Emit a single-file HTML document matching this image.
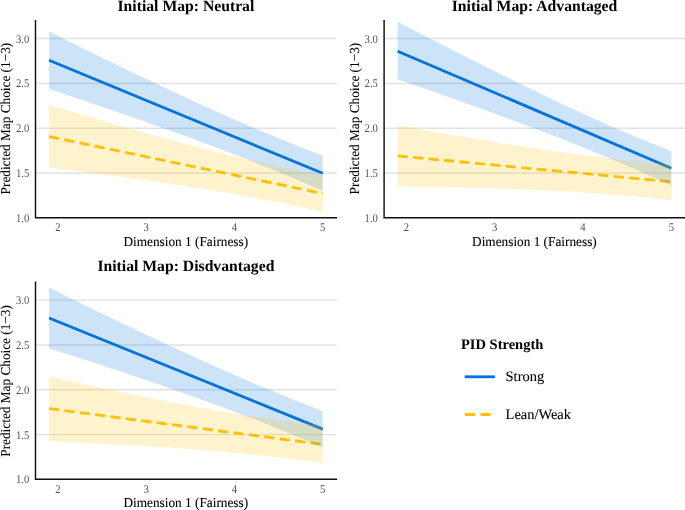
<!DOCTYPE html>
<html><head><meta charset="utf-8"><title>Predicted Map Choice</title>
<style>
html,body{margin:0;padding:0;background:#fff;}
body{width:685px;height:510px;overflow:hidden;}
svg{display:block;text-rendering:geometricPrecision;font-family:"Liberation Serif","Times New Roman",serif;}
.t{font-size:15.7px;font-weight:bold;fill:#000;text-anchor:middle;}
.a{font-size:13.7px;fill:#000;text-anchor:middle;stroke:#000;stroke-width:0.1px;}
.k{font-size:11.8px;fill:#555;}
.lt{font-size:14.5px;font-weight:bold;fill:#000;}
.ll{font-size:14.45px;fill:#000;stroke:#000;stroke-width:0.1px;}
</style></head><body>
<svg width="685" height="510" viewBox="0 0 685 510">
<rect width="685" height="510" fill="#fff"/>
<g>
<line x1="35.50" x2="336.40" y1="38.50" y2="38.50" stroke="#e2e2e2" stroke-width="1.4"/>
<line x1="35.50" x2="336.40" y1="83.45" y2="83.45" stroke="#e2e2e2" stroke-width="1.4"/>
<line x1="35.50" x2="336.40" y1="128.20" y2="128.20" stroke="#e2e2e2" stroke-width="1.4"/>
<line x1="35.50" x2="336.40" y1="173.00" y2="173.00" stroke="#e2e2e2" stroke-width="1.4"/>
<line x1="49.05" y1="136.50" x2="322.70" y2="193.50" stroke="#ffc107" stroke-width="2.85" stroke-dasharray="10.2 5.3"/>
<line x1="49.05" y1="60.30" x2="322.70" y2="173.30" stroke="#0572d9" stroke-width="2.85"/>
<path d="M49.05,31.50 L56.07,34.98 L63.08,38.46 L70.10,41.93 L77.12,45.40 L84.13,48.85 L91.15,52.30 L98.17,55.74 L105.18,59.16 L112.20,62.58 L119.22,65.98 L126.23,69.38 L133.25,72.76 L140.27,76.12 L147.28,79.47 L154.30,82.81 L161.32,86.13 L168.33,89.43 L175.35,92.71 L182.37,95.98 L189.38,99.22 L196.40,102.44 L203.42,105.63 L210.43,108.81 L217.45,111.95 L224.47,115.07 L231.48,118.17 L238.50,121.23 L245.52,124.26 L252.53,127.27 L259.55,130.24 L266.57,133.18 L273.58,136.09 L280.60,138.97 L287.62,141.82 L294.63,144.63 L301.65,147.42 L308.67,150.18 L315.68,152.90 L322.70,155.60 L322.70,190.80 L315.68,187.75 L308.67,184.73 L301.65,181.73 L294.63,178.76 L287.62,175.83 L280.60,172.92 L273.58,170.04 L266.57,167.19 L259.55,164.36 L252.53,161.57 L245.52,158.80 L238.50,156.06 L231.48,153.35 L224.47,150.66 L217.45,148.00 L210.43,145.36 L203.42,142.75 L196.40,140.15 L189.38,137.58 L182.37,135.03 L175.35,132.49 L168.33,129.97 L161.32,127.47 L154.30,124.99 L147.28,122.52 L140.27,120.06 L133.25,117.62 L126.23,115.19 L119.22,112.77 L112.20,110.37 L105.18,107.97 L98.17,105.58 L91.15,103.20 L84.13,100.84 L77.12,98.47 L70.10,96.12 L63.08,93.77 L56.07,91.43 L49.05,89.10Z" fill="#0572d9" fill-opacity="0.2"/>
<path d="M49.05,104.90 L56.07,107.00 L63.08,109.09 L70.10,111.18 L77.12,113.26 L84.13,115.33 L91.15,117.39 L98.17,119.45 L105.18,121.49 L112.20,123.53 L119.22,125.55 L126.23,127.57 L133.25,129.57 L140.27,131.55 L147.28,133.53 L154.30,135.49 L161.32,137.43 L168.33,139.36 L175.35,141.27 L182.37,143.16 L189.38,145.03 L196.40,146.88 L203.42,148.71 L210.43,150.51 L217.45,152.29 L224.47,154.04 L231.48,155.77 L238.50,157.46 L245.52,159.13 L252.53,160.76 L259.55,162.37 L266.57,163.94 L273.58,165.47 L280.60,166.98 L287.62,168.45 L294.63,169.89 L301.65,171.29 L308.67,172.66 L315.68,174.00 L322.70,175.30 L322.70,211.80 L315.68,210.22 L308.67,208.67 L301.65,207.14 L294.63,205.65 L287.62,204.19 L280.60,202.76 L273.58,201.36 L266.57,199.98 L259.55,198.64 L252.53,197.32 L245.52,196.04 L238.50,194.78 L231.48,193.54 L224.47,192.34 L217.45,191.15 L210.43,189.99 L203.42,188.85 L196.40,187.74 L189.38,186.64 L182.37,185.56 L175.35,184.50 L168.33,183.46 L161.32,182.44 L154.30,181.43 L147.28,180.43 L140.27,179.45 L133.25,178.48 L126.23,177.52 L119.22,176.57 L112.20,175.64 L105.18,174.71 L98.17,173.79 L91.15,172.89 L84.13,171.99 L77.12,171.10 L70.10,170.21 L63.08,169.34 L56.07,168.46 L49.05,167.60Z" fill="#ffc107" fill-opacity="0.2"/>
<path d="M35.50,20.60 V217.70 H336.40" fill="none" stroke="#111" stroke-width="1.45" stroke-linecap="square"/>
<text class="k" text-anchor="end" transform="translate(29.30,42.75) scale(0.905,1)">3.0</text>
<text class="k" text-anchor="end" transform="translate(29.30,86.75) scale(0.905,1)">2.5</text>
<text class="k" text-anchor="end" transform="translate(29.30,131.75) scale(0.905,1)">2.0</text>
<text class="k" text-anchor="end" transform="translate(29.30,176.75) scale(0.905,1)">1.5</text>
<text class="k" text-anchor="end" transform="translate(29.30,221.75) scale(0.905,1)">1.0</text>
<text class="k" text-anchor="middle" transform="translate(57.85,230.90) scale(0.905,1)">2</text>
<text class="k" text-anchor="middle" transform="translate(146.10,230.90) scale(0.905,1)">3</text>
<text class="k" text-anchor="middle" transform="translate(234.40,230.90) scale(0.905,1)">4</text>
<text class="k" text-anchor="middle" transform="translate(322.70,230.90) scale(0.905,1)">5</text>
<text class="a" transform="translate(185.80,245.50) scale(0.97,1)">Dimension 1 (Fairness)</text>
<text class="a" transform="translate(9.80,118.60) rotate(-90) scale(0.97,1)">Predicted Map Choice (1−3)</text>
<text class="t" x="185.90" y="10.55">Initial Map: Neutral</text>
</g>
<g>
<line x1="384.10" x2="685.00" y1="38.50" y2="38.50" stroke="#e2e2e2" stroke-width="1.4"/>
<line x1="384.10" x2="685.00" y1="83.45" y2="83.45" stroke="#e2e2e2" stroke-width="1.4"/>
<line x1="384.10" x2="685.00" y1="128.20" y2="128.20" stroke="#e2e2e2" stroke-width="1.4"/>
<line x1="384.10" x2="685.00" y1="173.00" y2="173.00" stroke="#e2e2e2" stroke-width="1.4"/>
<line x1="397.65" y1="155.90" x2="671.30" y2="181.80" stroke="#ffc107" stroke-width="2.85" stroke-dasharray="10.2 5.3"/>
<line x1="397.65" y1="51.20" x2="671.30" y2="168.20" stroke="#0572d9" stroke-width="2.85"/>
<path d="M397.65,21.80 L404.67,25.43 L411.68,29.05 L418.70,32.67 L425.72,36.28 L432.73,39.89 L439.75,43.48 L446.77,47.06 L453.78,50.64 L460.80,54.21 L467.82,57.76 L474.83,61.30 L481.85,64.83 L488.87,68.35 L495.88,71.85 L502.90,75.34 L509.92,78.81 L516.93,82.26 L523.95,85.69 L530.97,89.10 L537.98,92.49 L545.00,95.86 L552.02,99.20 L559.03,102.52 L566.05,105.81 L573.07,109.07 L580.08,112.30 L587.10,115.50 L594.12,118.66 L601.13,121.79 L608.15,124.89 L615.17,127.96 L622.18,130.98 L629.20,133.98 L636.22,136.93 L643.23,139.85 L650.25,142.74 L657.27,145.59 L664.28,148.41 L671.30,151.20 L671.30,185.50 L664.28,182.30 L657.27,179.12 L650.25,175.97 L643.23,172.86 L636.22,169.77 L629.20,166.71 L622.18,163.69 L615.17,160.70 L608.15,157.74 L601.13,154.81 L594.12,151.91 L587.10,149.04 L580.08,146.20 L573.07,143.39 L566.05,140.61 L559.03,137.85 L552.02,135.12 L545.00,132.41 L537.98,129.73 L530.97,127.07 L523.95,124.43 L516.93,121.81 L509.92,119.21 L502.90,116.63 L495.88,114.07 L488.87,111.51 L481.85,108.98 L474.83,106.46 L467.82,103.95 L460.80,101.45 L453.78,98.96 L446.77,96.49 L439.75,94.02 L432.73,91.56 L425.72,89.12 L418.70,86.68 L411.68,84.24 L404.67,81.82 L397.65,79.40Z" fill="#0572d9" fill-opacity="0.2"/>
<path d="M397.65,125.30 L404.67,126.56 L411.68,127.82 L418.70,129.07 L425.72,130.31 L432.73,131.54 L439.75,132.77 L446.77,133.99 L453.78,135.20 L460.80,136.41 L467.82,137.60 L474.83,138.78 L481.85,139.95 L488.87,141.11 L495.88,142.26 L502.90,143.39 L509.92,144.51 L516.93,145.61 L523.95,146.70 L530.97,147.77 L537.98,148.82 L545.00,149.86 L552.02,150.87 L559.03,151.86 L566.05,152.83 L573.07,153.78 L580.08,154.70 L587.10,155.60 L594.12,156.47 L601.13,157.31 L608.15,158.12 L615.17,158.91 L622.18,159.66 L629.20,160.39 L636.22,161.08 L643.23,161.75 L650.25,162.38 L657.27,162.98 L664.28,163.56 L671.30,164.10 L671.30,200.00 L664.28,199.24 L657.27,198.50 L650.25,197.80 L643.23,197.12 L636.22,196.47 L629.20,195.84 L622.18,195.25 L615.17,194.68 L608.15,194.14 L601.13,193.62 L594.12,193.13 L587.10,192.67 L580.08,192.23 L573.07,191.81 L566.05,191.42 L559.03,191.05 L552.02,190.70 L545.00,190.36 L537.98,190.05 L530.97,189.75 L523.95,189.48 L516.93,189.21 L509.92,188.97 L502.90,188.73 L495.88,188.51 L488.87,188.31 L481.85,188.11 L474.83,187.93 L467.82,187.76 L460.80,187.59 L453.78,187.44 L446.77,187.30 L439.75,187.16 L432.73,187.03 L425.72,186.91 L418.70,186.80 L411.68,186.69 L404.67,186.59 L397.65,186.50Z" fill="#ffc107" fill-opacity="0.2"/>
<path d="M384.10,20.60 V217.70 H685.00" fill="none" stroke="#111" stroke-width="1.45" stroke-linecap="square"/>
<text class="k" text-anchor="end" transform="translate(377.90,42.75) scale(0.905,1)">3.0</text>
<text class="k" text-anchor="end" transform="translate(377.90,86.75) scale(0.905,1)">2.5</text>
<text class="k" text-anchor="end" transform="translate(377.90,131.75) scale(0.905,1)">2.0</text>
<text class="k" text-anchor="end" transform="translate(377.90,176.75) scale(0.905,1)">1.5</text>
<text class="k" text-anchor="end" transform="translate(377.90,221.75) scale(0.905,1)">1.0</text>
<text class="k" text-anchor="middle" transform="translate(406.45,230.90) scale(0.905,1)">2</text>
<text class="k" text-anchor="middle" transform="translate(494.70,230.90) scale(0.905,1)">3</text>
<text class="k" text-anchor="middle" transform="translate(583.00,230.90) scale(0.905,1)">4</text>
<text class="k" text-anchor="middle" transform="translate(671.30,230.90) scale(0.905,1)">5</text>
<text class="a" transform="translate(534.40,245.50) scale(0.97,1)">Dimension 1 (Fairness)</text>
<text class="a" transform="translate(359.30,118.60) rotate(-90) scale(0.97,1)">Predicted Map Choice (1−3)</text>
<text class="t" x="534.50" y="10.55">Initial Map: Advantaged</text>
</g>
<g>
<line x1="35.50" x2="336.40" y1="300.10" y2="300.10" stroke="#e2e2e2" stroke-width="1.4"/>
<line x1="35.50" x2="336.40" y1="345.05" y2="345.05" stroke="#e2e2e2" stroke-width="1.4"/>
<line x1="35.50" x2="336.40" y1="389.80" y2="389.80" stroke="#e2e2e2" stroke-width="1.4"/>
<line x1="35.50" x2="336.40" y1="434.60" y2="434.60" stroke="#e2e2e2" stroke-width="1.4"/>
<line x1="49.05" y1="408.60" x2="322.70" y2="444.40" stroke="#ffc107" stroke-width="2.85" stroke-dasharray="10.2 5.3"/>
<line x1="49.05" y1="318.00" x2="322.70" y2="429.10" stroke="#0572d9" stroke-width="2.85"/>
<path d="M49.05,287.60 L56.07,291.06 L63.08,294.51 L70.10,297.95 L77.12,301.38 L84.13,304.81 L91.15,308.23 L98.17,311.64 L105.18,315.04 L112.20,318.43 L119.22,321.80 L126.23,325.17 L133.25,328.53 L140.27,331.87 L147.28,335.19 L154.30,338.51 L161.32,341.80 L168.33,345.08 L175.35,348.34 L182.37,351.59 L189.38,354.81 L196.40,358.01 L203.42,361.19 L210.43,364.34 L217.45,367.47 L224.47,370.58 L231.48,373.65 L238.50,376.70 L245.52,379.72 L252.53,382.71 L259.55,385.67 L266.57,388.60 L273.58,391.50 L280.60,394.37 L287.62,397.20 L294.63,400.00 L301.65,402.77 L308.67,405.51 L315.68,408.22 L322.70,410.90 L322.70,447.40 L315.68,444.38 L308.67,441.40 L301.65,438.44 L294.63,435.51 L287.62,432.61 L280.60,429.75 L273.58,426.91 L266.57,424.11 L259.55,421.33 L252.53,418.59 L245.52,415.88 L238.50,413.19 L231.48,410.54 L224.47,407.91 L217.45,405.31 L210.43,402.73 L203.42,400.18 L196.40,397.65 L189.38,395.15 L182.37,392.66 L175.35,390.19 L168.33,387.75 L161.32,385.32 L154.30,382.91 L147.28,380.51 L140.27,378.13 L133.25,375.77 L126.23,373.41 L119.22,371.07 L112.20,368.74 L105.18,366.42 L98.17,364.12 L91.15,361.82 L84.13,359.53 L77.12,357.25 L70.10,354.97 L63.08,352.71 L56.07,350.45 L49.05,348.20Z" fill="#0572d9" fill-opacity="0.2"/>
<path d="M49.05,376.10 L56.07,377.68 L63.08,379.26 L70.10,380.83 L77.12,382.39 L84.13,383.94 L91.15,385.48 L98.17,387.02 L105.18,388.54 L112.20,390.05 L119.22,391.55 L126.23,393.03 L133.25,394.50 L140.27,395.96 L147.28,397.40 L154.30,398.83 L161.32,400.23 L168.33,401.62 L175.35,402.99 L182.37,404.34 L189.38,405.66 L196.40,406.96 L203.42,408.23 L210.43,409.48 L217.45,410.70 L224.47,411.89 L231.48,413.05 L238.50,414.17 L245.52,415.27 L252.53,416.33 L259.55,417.35 L266.57,418.34 L273.58,419.30 L280.60,420.22 L287.62,421.10 L294.63,421.95 L301.65,422.76 L308.67,423.54 L315.68,424.29 L322.70,425.00 L322.70,463.00 L315.68,462.02 L308.67,461.07 L301.65,460.15 L294.63,459.25 L287.62,458.39 L280.60,457.56 L273.58,456.75 L266.57,455.98 L259.55,455.23 L252.53,454.50 L245.52,453.81 L238.50,453.13 L231.48,452.49 L224.47,451.86 L217.45,451.26 L210.43,450.68 L203.42,450.12 L196.40,449.58 L189.38,449.06 L182.37,448.55 L175.35,448.06 L168.33,447.59 L161.32,447.13 L154.30,446.68 L147.28,446.25 L140.27,445.83 L133.25,445.42 L126.23,445.02 L119.22,444.63 L112.20,444.25 L105.18,443.88 L98.17,443.52 L91.15,443.17 L84.13,442.83 L77.12,442.49 L70.10,442.16 L63.08,441.83 L56.07,441.51 L49.05,441.20Z" fill="#ffc107" fill-opacity="0.2"/>
<path d="M35.50,282.20 V479.30 H336.40" fill="none" stroke="#111" stroke-width="1.45" stroke-linecap="square"/>
<text class="k" text-anchor="end" transform="translate(29.30,303.75) scale(0.905,1)">3.0</text>
<text class="k" text-anchor="end" transform="translate(29.30,348.75) scale(0.905,1)">2.5</text>
<text class="k" text-anchor="end" transform="translate(29.30,393.75) scale(0.905,1)">2.0</text>
<text class="k" text-anchor="end" transform="translate(29.30,438.75) scale(0.905,1)">1.5</text>
<text class="k" text-anchor="end" transform="translate(29.30,482.75) scale(0.905,1)">1.0</text>
<text class="k" text-anchor="middle" transform="translate(57.85,492.90) scale(0.905,1)">2</text>
<text class="k" text-anchor="middle" transform="translate(146.10,492.90) scale(0.905,1)">3</text>
<text class="k" text-anchor="middle" transform="translate(234.40,492.90) scale(0.905,1)">4</text>
<text class="k" text-anchor="middle" transform="translate(322.70,492.90) scale(0.905,1)">5</text>
<text class="a" transform="translate(185.80,506.80) scale(0.97,1)">Dimension 1 (Fairness)</text>
<text class="a" transform="translate(9.80,380.90) rotate(-90) scale(0.97,1)">Predicted Map Choice (1−3)</text>
<text class="t" x="185.90" y="271.40">Initial Map: Disdvantaged</text>
</g>
<g>
<text class="lt" x="461.0" y="349.35">PID Strength</text>
<line x1="464.7" x2="494.9" y1="376.8" y2="376.8" stroke="#0572d9" stroke-width="2.85"/>
<line x1="464.7" x2="494.9" y1="414.5" y2="414.5" stroke="#ffc107" stroke-width="2.85" stroke-dasharray="10.4 5.4 10.1 99"/>
<text class="ll" x="505.6" y="381.1">Strong</text>
<text class="ll" x="505.6" y="418.9">Lean/Weak</text>
</g>
</svg></body></html>
